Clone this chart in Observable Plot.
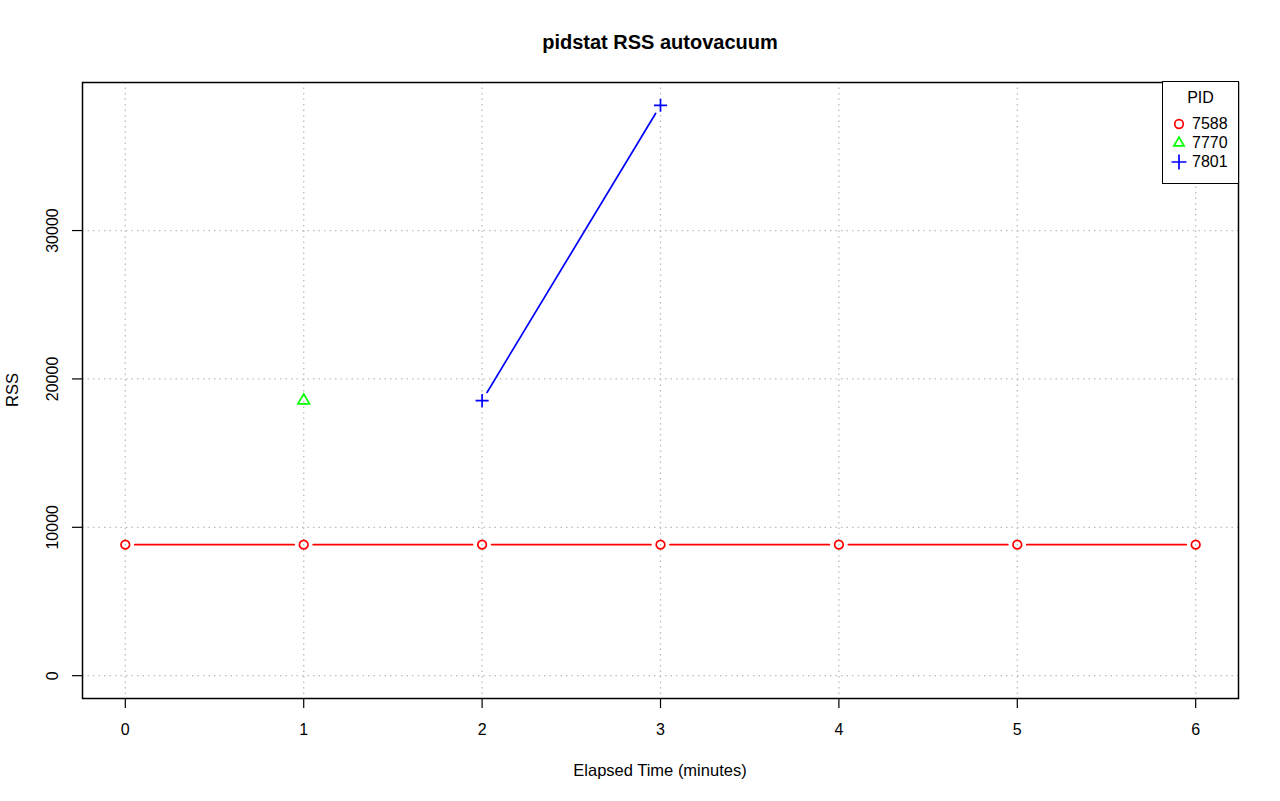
<!DOCTYPE html>
<html><head><meta charset="utf-8">
<script src="https://cdn.jsdelivr.net/npm/d3@7"></script>
<script src="https://cdn.jsdelivr.net/npm/@observablehq/plot@0.6"></script>
<style>
body{margin:0;background:#fff;font-family:"Liberation Sans",Arial,sans-serif;}
#wrap{position:relative;width:1280px;height:801px;}
#legend{position:absolute;left:1162px;top:81px;width:77px;height:103px;box-sizing:border-box;border:1.5px solid #000;background:#fff;font-size:16px;color:#000;}
#legend .t{position:absolute;left:0;width:100%;text-align:center;top:7px;line-height:18px;}
#legend .r{position:absolute;left:29px;line-height:18px;}
#legend svg{position:absolute;left:8px;}
svg g[aria-label$="tick label"] text{font-size:16px;fill:#000;}
</style></head><body>
<div id="wrap"></div>
<script>
const title = "pidstat RSS autovacuum";
const xLabel = "Elapsed Time (minutes)";
const yLabel = "RSS";
const pids = ["7588", "7770", "7801"];
const colors = ["#ff0000", "#00ff00", "#0000ff"];
const symbols = ["circle", "triangle", "plus"];
const minutes7588 = [0, 1, 2, 3, 4, 5, 6];
const rss7588 = [8832, 8832, 8832, 8832, 8832, 8832, 8832];
const minutes7770 = [1];
const rss7770 = [18540];
const minutes7801 = [2, 3];
const rss7801 = [18540, 38440];
const xTicks = [0, 1, 2, 3, 4, 5, 6];
const yTicks = [0, 10000, 20000, 30000];

const series = [
  {pid: pids[0], xs: minutes7588, ys: rss7588},
  {pid: pids[1], xs: minutes7770, ys: rss7770},
  {pid: pids[2], xs: minutes7801, ys: rss7801}
];
const pts = [];
series.forEach(s => s.xs.forEach((x, i) => pts.push({pid: s.pid, x, y: s.ys[i]})));
const ymax = d3.max(pts, d => d.y);
const xmin = 0, xmax = 6;
const xpad = (xmax - xmin) * 0.04, ypad = ymax * 0.04;

const colorOf = Object.fromEntries(pids.map((p, i) => [p, colors[i]]));
const symOf = Object.fromEntries(pids.map((p, i) => [p, symbols[i]]));

// R type="b": segments between points, leaving a gap around each point
function gapCurve(context) {
  const gap = 9.5;
  let P = [];
  return {
    areaStart() {}, areaEnd() {},
    lineStart() { P = []; },
    point(x, y) { P.push([+x, +y]); },
    lineEnd() {
      for (let i = 1; i < P.length; i++) {
        const [x0, y0] = P[i-1], [x1, y1] = P[i];
        const dx = x1 - x0, dy = y1 - y0, L = Math.hypot(dx, dy);
        if (L <= 2 * gap) continue;
        const ux = dx / L, uy = dy / L;
        context.moveTo(x0 + ux * gap, y0 + uy * gap);
        context.lineTo(x1 - ux * gap, y1 - uy * gap);
      }
    }
  };
}

const chart = Plot.plot({
  width: 1280, height: 801,
  marginLeft: 82, marginRight: 42, marginTop: 82, marginBottom: 103,
  style: {fontFamily: "Liberation Sans, Arial, sans-serif", fontSize: "16px", background: "#fff"},
  x: {domain: [xmin - xpad, xmax + xpad], label: null},
  y: {domain: [-ypad, ymax + ypad], label: null},
  marks: [
    Plot.gridX(xTicks, {stroke: "#bdbdbd", strokeOpacity: 1, strokeDasharray: "1.5,4", strokeWidth: 1.3}),
    Plot.gridY(yTicks, {stroke: "#bdbdbd", strokeOpacity: 1, strokeDasharray: "1.5,4", strokeWidth: 1.3}),
    Plot.axisX(xTicks, {tickSize: 10, tickPadding: 15, tickFormat: d => String(d), fontSize: 16, strokeWidth: 1.2}),
    Plot.axisY(yTicks, {tickSize: 10, tickPadding: 15, tickRotate: -90, textAnchor: "middle", tickFormat: d => String(d), fontSize: 16, strokeWidth: 1.2}),
    Plot.line(pts, {x: "x", y: "y", z: "pid", stroke: d => colorOf[d.pid], curve: gapCurve, strokeWidth: 1.7}),
    Plot.dot(pts, {x: "x", y: "y", stroke: d => colorOf[d.pid], symbol: d => symOf[d.pid], r: 4.3, strokeWidth: 1.7, fill: "none"}),
    Plot.frame({stroke: "#000", strokeWidth: 1.5})
  ]
});

const wrap = document.getElementById("wrap");
chart.style.position = "absolute"; chart.style.left = "0"; chart.style.top = "0";
wrap.appendChild(chart);

const svg = d3.select(chart);
svg.append("text").attr("x", 660).attr("y", 49).attr("text-anchor", "middle")
  .attr("font-size", 20).attr("font-weight", "bold").attr("fill", "#000").text(title);
svg.append("text").attr("x", 660).attr("y", 776).attr("text-anchor", "middle")
  .attr("font-size", 16.5).attr("fill", "#000").text(xLabel);
svg.append("text").attr("transform", "translate(18,390) rotate(-90)").attr("text-anchor", "middle")
  .attr("font-size", 16.5).attr("fill", "#000").text(yLabel);

// Legend
const lg = document.createElement("div");
lg.id = "legend";
let html = '<div class="t">PID</div>';
const rowsY = [42, 61, 80];
pids.forEach((p, i) => {
  const sym = d3.symbol(i === 0 ? d3.symbolCircle : i === 1 ? d3.symbolTriangle2 : d3.symbolPlus, i === 0 ? 58 : 75)();
  html += `<svg width="16" height="16" style="top:${rowsY[i]-8}px" viewBox="-8 -8 16 16"><path d="${sym}" fill="none" stroke="${colors[i]}" stroke-width="1.7"/></svg>`;
  html += `<div class="r" style="top:${rowsY[i]-9}px">${p}</div>`;
});
lg.innerHTML = html;
wrap.appendChild(lg);
</script>
</body></html>
